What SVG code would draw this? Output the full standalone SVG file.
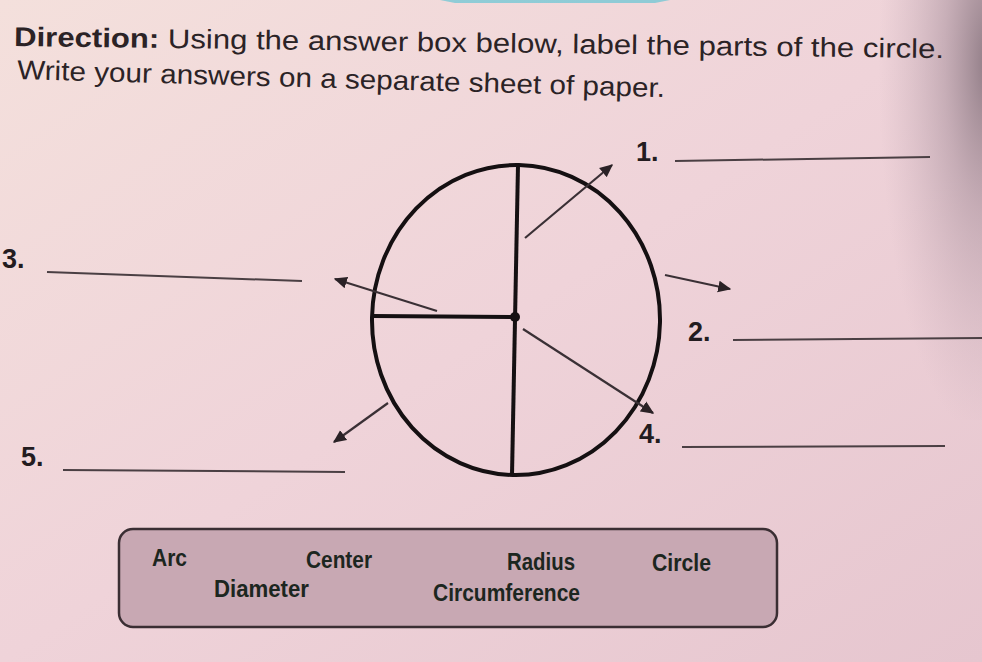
<svg xmlns="http://www.w3.org/2000/svg" width="982" height="662" viewBox="0 0 982 662">
<defs>
<linearGradient id="paper" x1="0" y1="0" x2="1" y2="1">
<stop offset="0" stop-color="#f4e0dc"/>
<stop offset="0.5" stop-color="#efd3d9"/>
<stop offset="1" stop-color="#e6c6cf"/>
</linearGradient>
<radialGradient id="shade" cx="1.05" cy="0.15" r="0.9" fx="1.05" fy="0.15">
<stop offset="0" stop-color="#7e6c76" stop-opacity="0.85"/>
<stop offset="0.4" stop-color="#a08a96" stop-opacity="0.5"/>
<stop offset="1" stop-color="#c0a8b4" stop-opacity="0"/>
</radialGradient>
<marker id="ah" viewBox="0 0 10 10" refX="9" refY="5" markerWidth="6" markerHeight="6" orient="auto" markerUnits="strokeWidth">
<path d="M0,0.5 L10,5 L0,9.5 z" fill="#2a2226"/>
</marker>
<style>
.t{font-family:"Liberation Sans","DejaVu Sans",sans-serif;fill:#2b2326;font-size:27px}
.num{font-family:"Liberation Sans","DejaVu Sans",sans-serif;fill:#231c1f;font-size:27px;font-weight:bold}
.ans{stroke:#4a3f43;stroke-width:2;fill:none}
.arr{stroke:#3a3035;stroke-width:2.2;fill:none;marker-end:url(#ah)}
.w{font-family:"Liberation Sans","DejaVu Sans",sans-serif;fill:#1c2620;font-size:23px;font-weight:bold}
</style>
</defs>
<rect width="982" height="662" fill="url(#paper)"/>
<rect x="860" y="0" width="122" height="420" fill="url(#shade)"/>
<path d="M440,0 L670,0 L655,3 L455,3 z" fill="#4fc3d4" opacity="0.6"/>

<g id="title">
<text class="t" transform="translate(14,46) rotate(0.75)" textLength="930" lengthAdjust="spacingAndGlyphs"><tspan font-weight="bold">Direction:</tspan> Using the answer box below, label the parts of the circle.</text>
<text class="t" transform="translate(17,79) rotate(1.6)" textLength="648" lengthAdjust="spacingAndGlyphs">Write your answers on a separate sheet of paper.</text>
</g>

<g id="circle">
<ellipse cx="516" cy="320" rx="144" ry="155" fill="none" stroke="#151012" stroke-width="4" transform="rotate(1.1 516 320)"/>
<line x1="518" y1="165" x2="512" y2="475" stroke="#151012" stroke-width="4"/>
<line x1="373" y1="316" x2="515" y2="317" stroke="#151012" stroke-width="4"/>
<circle cx="515" cy="317" r="5" fill="#151012"/>
</g>

<g id="connectors">
<line class="arr" x1="525" y1="238" x2="612" y2="165"/>
<line class="arr" x1="665" y1="275" x2="730" y2="289"/>
<line class="arr" x1="437" y1="311" x2="335" y2="279"/>
<line class="arr" x1="523" y1="329" x2="653" y2="413"/>
<line class="arr" x1="388" y1="403" x2="334" y2="442"/>
</g>

<g id="label1"><text class="num" x="636" y="161">1.</text><line class="ans" x1="675" y1="161" x2="930" y2="157"/></g>
<g id="label2"><text class="num" x="688" y="341">2.</text><line class="ans" x1="733" y1="340" x2="982" y2="338"/></g>
<g id="label3"><text class="num" x="2" y="268">3.</text><line class="ans" x1="47" y1="272" x2="302" y2="281"/></g>
<g id="label4"><text class="num" x="639" y="443">4.</text><line class="ans" x1="682" y1="447" x2="945" y2="446"/></g>
<g id="label5"><text class="num" x="21" y="466">5.</text><line class="ans" x1="63" y1="470" x2="345" y2="472"/></g>

<g id="answer-box">
<rect x="119" y="529" width="658" height="98" rx="14" fill="#c8a8b3" stroke="#3a2e33" stroke-width="2.5"/>
<text class="w" x="152" y="566" textLength="35" lengthAdjust="spacingAndGlyphs">Arc</text>
<text class="w" x="306" y="568" textLength="66" lengthAdjust="spacingAndGlyphs">Center</text>
<text class="w" x="507" y="570" textLength="68" lengthAdjust="spacingAndGlyphs">Radius</text>
<text class="w" x="652" y="571" textLength="59" lengthAdjust="spacingAndGlyphs">Circle</text>
<text class="w" x="214" y="597" textLength="95" lengthAdjust="spacingAndGlyphs">Diameter</text>
<text class="w" x="433" y="601" textLength="147" lengthAdjust="spacingAndGlyphs">Circumference</text>
</g>
</svg>
